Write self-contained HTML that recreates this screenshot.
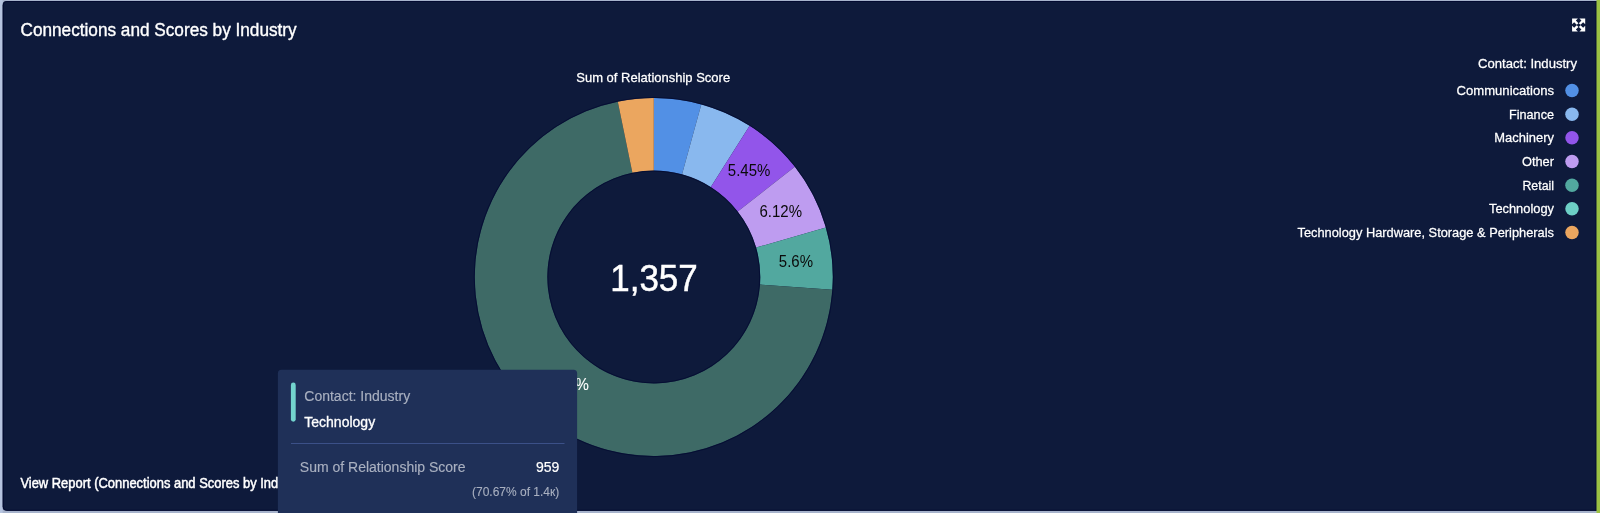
<!DOCTYPE html>
<html><head><meta charset="utf-8">
<style>
html,body{margin:0;padding:0;}
body{width:1600px;height:513px;overflow:hidden;background:#aebcd8;}
svg{position:absolute;left:0;top:0;font-family:"Liberation Sans",sans-serif;will-change:transform;}
</style></head><body>
<svg width="1600" height="513" viewBox="0 0 1600 513">
<rect x="0" y="0" width="1600" height="513" fill="#a7b3cc"/>
<rect x="0" y="0" width="2.6" height="513" fill="#b6c4df"/>
<rect x="2.6" y="1" width="1597.4" height="509.8" rx="4" fill="#0e1a3b"/>
<rect x="3.3" y="1.5" width="1597" height="508.8" rx="3.5" fill="none" stroke="#030a30" stroke-width="1"/>
<rect x="1595.5" y="1.5" width="1" height="509" fill="#030a30"/>
<rect x="1596.5" y="0" width="3.5" height="513" fill="#9bc143"/>
<g transform="translate(1572.1,18.5)" fill="#fff">
<path d="M0,0 H5.8 L3.75,2.05 L6.35,4.65 L4.65,6.35 L2.05,3.75 L0,5.8 Z"/>
<path transform="translate(13.1,0) scale(-1,1)" d="M0,0 H5.8 L3.75,2.05 L6.35,4.65 L4.65,6.35 L2.05,3.75 L0,5.8 Z"/>
<path transform="translate(0,13.1) scale(1,-1)" d="M0,0 H5.8 L3.75,2.05 L6.35,4.65 L4.65,6.35 L2.05,3.75 L0,5.8 Z"/>
<path transform="translate(13.1,13.1) scale(-1,-1)" d="M0,0 H5.8 L3.75,2.05 L6.35,4.65 L4.65,6.35 L2.05,3.75 L0,5.8 Z"/>
</g>
<path d="M653.80,98.00 A179.0,179.0 0 0 1 701.30,104.42 L682.06,174.32 A106.5,106.5 0 0 0 653.80,170.50 Z" fill="#5290e5"/>
<path d="M701.30,104.42 A179.0,179.0 0 0 1 749.63,125.82 L710.82,187.05 A106.5,106.5 0 0 0 682.06,174.32 Z" fill="#89b8ee"/>
<path d="M749.63,125.82 A179.0,179.0 0 0 1 794.85,166.80 L737.72,211.43 A106.5,106.5 0 0 0 710.82,187.05 Z" fill="#9255ea"/>
<path d="M794.85,166.80 A179.0,179.0 0 0 1 825.83,227.54 L756.15,247.57 A106.5,106.5 0 0 0 737.72,211.43 Z" fill="#be9cf0"/>
<path d="M825.83,227.54 A179.0,179.0 0 0 1 832.34,289.80 L760.03,284.61 A106.5,106.5 0 0 0 756.15,247.57 Z" fill="#52a89f"/>
<path d="M832.34,289.80 A179.0,179.0 0 1 1 617.81,101.66 L632.39,172.68 A106.5,106.5 0 1 0 760.03,284.61 Z" fill="#3e6a66"/>
<path d="M617.81,101.66 A179.0,179.0 0 0 1 653.80,98.00 L653.80,170.50 A106.5,106.5 0 0 0 632.39,172.68 Z" fill="#eba65f"/>
<circle cx="653.8" cy="277.0" r="179.6" fill="none" stroke="#020830" stroke-opacity="0.7" stroke-width="1"/>
<circle cx="653.8" cy="277.0" r="105.9" fill="none" stroke="#020830" stroke-opacity="0.7" stroke-width="1"/>
<text transform="translate(20.5,35.55) scale(1.0,1.08)" font-size="17.2" fill="#fff" text-anchor="start" font-weight="normal" stroke="#fff" stroke-width="0.35">Connections and Scores by Industry</text>
<text transform="translate(653.2,82) scale(1.0,1.03)" font-size="13" fill="#fff" text-anchor="middle" font-weight="normal" stroke="#fff" stroke-width="0.25">Sum of Relationship Score</text>
<text transform="translate(654.0,290.9) scale(1.0,1.08)" font-size="35" fill="#fff" text-anchor="middle" font-weight="normal" stroke="#fff" stroke-width="0.45">1,357</text>
<text transform="translate(749.1,175.9) scale(1.0,1.04)" font-size="15" fill="#0a0a0a" text-anchor="middle" font-weight="normal">5.45%</text>
<text transform="translate(780.75,216.7) scale(1.0,1.04)" font-size="15" fill="#0a0a0a" text-anchor="middle" font-weight="normal">6.12%</text>
<text transform="translate(795.9,266.7) scale(1.0,1.04)" font-size="15" fill="#0a0a0a" text-anchor="middle" font-weight="normal">5.6%</text>
<text transform="translate(563.5,390.2) scale(1.0,1.04)" font-size="15" fill="#fff" text-anchor="middle" font-weight="normal" stroke="#fff" stroke-width="0.1">70.67%</text>
<text transform="translate(1577,68.1) scale(1.0,1.03)" font-size="13.1" fill="#fff" text-anchor="end" font-weight="normal" stroke="#fff" stroke-width="0.25">Contact: Industry</text>
<text transform="translate(1554,94.9) scale(1.0,1.03)" font-size="13.1" fill="#fff" text-anchor="end" font-weight="normal" stroke="#fff" stroke-width="0.25">Communications</text>
<text transform="translate(1554,118.57000000000001) scale(0.965,1.03)" font-size="13.1" fill="#fff" text-anchor="end" font-weight="normal" stroke="#fff" stroke-width="0.25">Finance</text>
<text transform="translate(1554,142.24) scale(0.988,1.03)" font-size="13.1" fill="#fff" text-anchor="end" font-weight="normal" stroke="#fff" stroke-width="0.25">Machinery</text>
<text transform="translate(1554,165.91) scale(0.979,1.03)" font-size="13.1" fill="#fff" text-anchor="end" font-weight="normal" stroke="#fff" stroke-width="0.25">Other</text>
<text transform="translate(1554,189.58) scale(0.943,1.03)" font-size="13.1" fill="#fff" text-anchor="end" font-weight="normal" stroke="#fff" stroke-width="0.25">Retail</text>
<text transform="translate(1554,213.25000000000003) scale(0.982,1.03)" font-size="13.1" fill="#fff" text-anchor="end" font-weight="normal" stroke="#fff" stroke-width="0.25">Technology</text>
<text transform="translate(1554,236.92000000000002) scale(0.979,1.03)" font-size="13.1" fill="#fff" text-anchor="end" font-weight="normal" stroke="#fff" stroke-width="0.25">Technology Hardware, Storage &amp; Peripherals</text>
<text transform="translate(20.4,487.9) scale(0.995,1.06)" font-size="13" fill="#fff" text-anchor="start" font-weight="normal" stroke="#fff" stroke-width="0.45">View Report (Connections and Scores by Industry)</text>
<circle cx="1572" cy="90.50" r="6.75" fill="#5290e5"/>
<circle cx="1572" cy="114.17" r="6.75" fill="#89b8ee"/>
<circle cx="1572" cy="137.84" r="6.75" fill="#9255ea"/>
<circle cx="1572" cy="161.51" r="6.75" fill="#be9cf0"/>
<circle cx="1572" cy="185.18" r="6.75" fill="#52a89f"/>
<circle cx="1572" cy="208.85" r="6.75" fill="#6dcfc6"/>
<circle cx="1572" cy="232.52" r="6.75" fill="#eba65f"/>
<rect x="277.9" y="369.8" width="299.2" height="150" rx="3.5" fill="#1f3058"/>
<rect x="290.9" y="382.6" width="4.8" height="39.1" rx="2.4" fill="#73d4ce"/>
<rect x="291" y="443" width="273.5" height="1" fill="#3b5088"/>
<text transform="translate(304.3,400.9) scale(1.0,1.0)" font-size="14" fill="#a9b0c0" text-anchor="start" font-weight="normal" stroke="#a9b0c0" stroke-width="0.15">Contact: Industry</text>
<text transform="translate(304.3,426.6) scale(1.0,1.0)" font-size="14" fill="#fff" text-anchor="start" font-weight="normal" stroke="#fff" stroke-width="0.3">Technology</text>
<text transform="translate(299.8,472.1) scale(1.0,1.0)" font-size="14" fill="#a9b0c0" text-anchor="start" font-weight="normal" stroke="#a9b0c0" stroke-width="0.15">Sum of Relationship Score</text>
<text transform="translate(559.3,472.1) scale(1.0,1.0)" font-size="14" fill="#fff" text-anchor="end" font-weight="normal" stroke="#fff" stroke-width="0.2">959</text>
<text transform="translate(559.3,496.3) scale(1.0,1.0)" font-size="12" fill="#a9b0c0" text-anchor="end" font-weight="normal" stroke="#a9b0c0" stroke-width="0.1">(70.67% of 1.4к)</text>
</svg>
</body></html>
